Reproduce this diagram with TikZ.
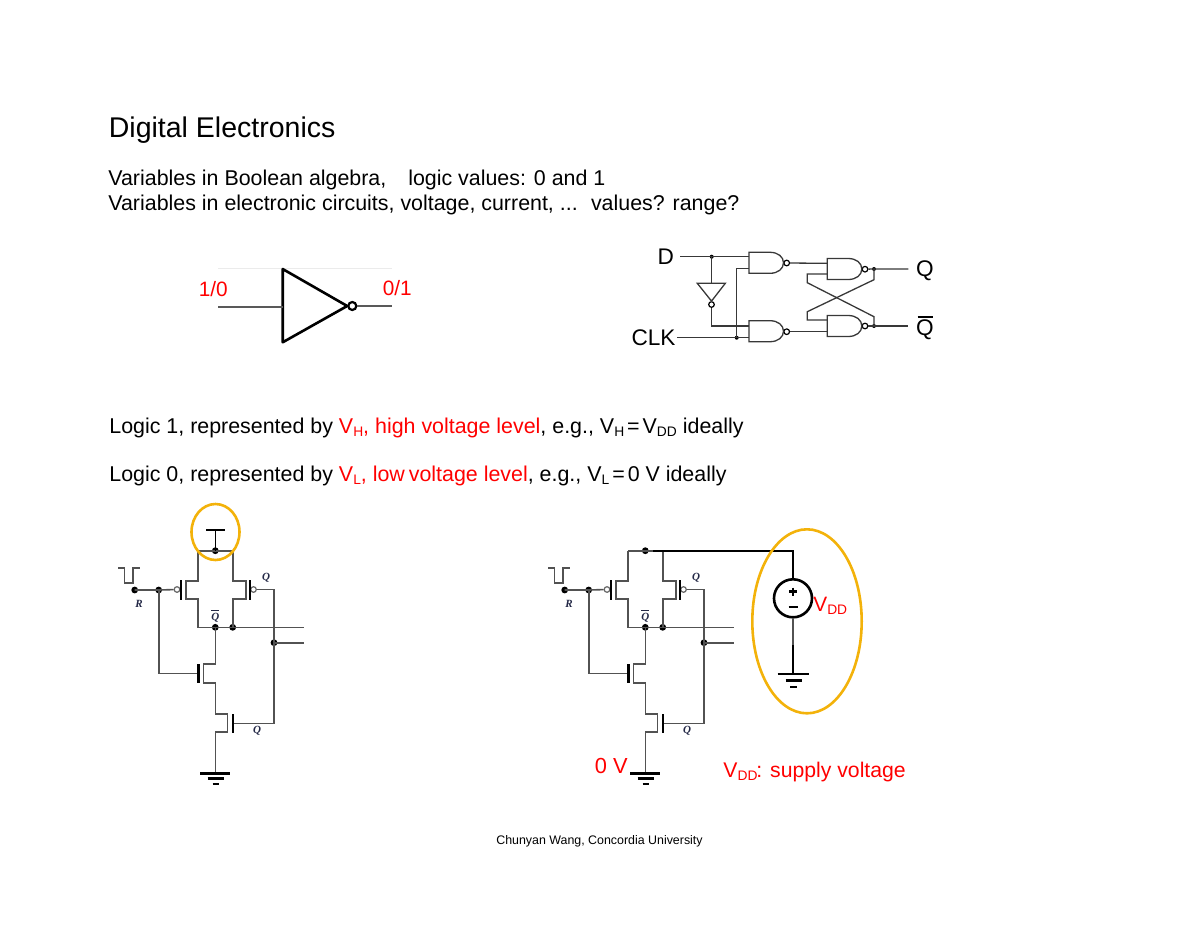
\documentclass[tikz,border=0pt]{standalone}
\usepackage{fontspec}
\setmainfont{Liberation Sans}
\newfontfamily\pinfont[Ligatures=TeX]{Liberation Serif}
\definecolor{ringorange}{RGB}{243,178,10}
\definecolor{pinblue}{RGB}{35,40,70}
\def\lowtext#1{\raisebox{-0.3ex}{\fontsize{6.9}{9}\selectfont #1}}
\def\barred#1{$\overline{\mbox{#1}}$}
\def\nandpiece{-- ++(0,21) -- ++(21,0) .. controls +(8,0) and +(0,6) .. ++(13.5,-10.5) .. controls +(0,-6) and +(8,0) .. ++(-13.5,-10.5) -- cycle}
\def\groundpiece#1{-- ++(#1,0) ++(-#1*2,0) -- ++(#1,0)}
\tikzset{
  body/.style={inner sep=0,anchor=base west,font=\fontsize{10.7}{12}\selectfont},
  redtext/.style={inner sep=0,text=red,font=\fontsize{10.4}{12}\selectfont},
  pin/.style={inner sep=0,text=pinblue,font=\pinfont\bfseries\itshape\fontsize{5.5}{6}\selectfont},
  ffpin/.style={inner sep=0,font=\fontsize{11.3}{13}\selectfont},
  wire/.style={draw=black!68,line width=0.8pt},
  ffwire/.style={draw=black!78,line width=0.65pt},
  jdot/.style={circle,fill=black,inner sep=0,minimum size=3.4pt},
  smalldot/.style={circle,fill=black,inner sep=0,minimum size=2pt},
  bubble/.style={circle,draw=black!60,fill=white,line width=0.6pt,inner sep=0,minimum size=2.8pt},
  gatebar/.style={draw=black,line width=1.4pt},
  ring/.style={draw=ringorange,line width=1.3pt}
}
% the part shared by both latch circuits
\def\latchcore{
  \node[jdot] (rin) at (134.7,590) {};
  \node[jdot] (rtap) at (158.7,590) {};
  \node[bubble] (pga) at (177,589.5) {};
  \node[bubble] (pgb) at (253.5,589.5) {};
  \node[jdot] (qb) at (215.3,627.3) {};
  \node[jdot] (qc) at (232.7,627.3) {};
  \node[jdot] (qt) at (274,642.7) {};
  \coordinate (qout) at (304,627.3);
  \coordinate (qtout) at (304,642.7);
  \coordinate (gnd) at (215.3,773.3);
  \draw[wire] (rin.center) -- (rtap.center) -- (pga);
  \draw[wire] (rtap.center) |- (198.3,673.3);
  \draw[wire] (198,550.7) -- (198,580.7) -- (185.7,580.7) -- (185.7,599) -- (198,599) -- (198,627.3) -- (qout);
  \draw[wire] (232.7,550.7) -- (232.7,580.7) -- (245.7,580.7) -- (245.7,599) -- (232.7,599) -- (qc.center);
  \draw[wire] (pgb) -- (274,589.5) -- (qt.center) -- (274,723.3) -- (233,723.3);
  \draw[wire] (qt.center) -- (qtout);
  \draw[wire] (qb.center) -- (215.3,664) -- (203.3,664) -- (203.3,682.7) -- (215.3,682.7) -- (215.3,714) -- (227.3,714) -- (227.3,732) -- (215.3,732) -- (gnd);
  \draw[gatebar] (181,580) -- (181,600);
  \draw[gatebar] (250,580) -- (250,600);
  \draw[gatebar] (198.3,664) -- (198.3,683);
  \draw[gatebar] (233,714) -- (233,733);
  \draw[gatebar] (gnd) \groundpiece{15};
  \draw[gatebar] (215.7,778.3) \groundpiece{8};
  \draw[gatebar] (215.7,784) \groundpiece{3};
  \draw[wire] (118.3,568) -- (124.3,568) -- (124.3,583) -- (133,583) -- (133,568) -- (140,568);
  \node[pin] (rlabel) at (139,604) {R};
  \node[pin] (qbarlabel) at (215.3,615.5) {\barred{Q}};
  \node[pin] (qtop) at (266,578) {Q};
  \node[pin] (qlow) at (257,731) {Q};
}
\begin{document}
\begin{tikzpicture}[x=0.5pt,y=-0.5pt]
\useasboundingbox (0,0) rectangle (1200,927);
% headings
\node[body,font=\fontsize{14.25}{17}\selectfont] (title) at (108.5,137) {Digital Electronics};
\node[body] (boolline) at (108,185) {Variables in Boolean algebra,\hspace{0.75em} logic values: 0 and 1};
\node[body] (circline) at (108,210) {Variables in electronic circuits, voltage, current, ...\hspace{0.25em} values? range?};
\node[body] (logicone) at (109,433) {Logic 1, represented by \textcolor{red}{V\lowtext{H}, high voltage level}, e.g., V\lowtext{H}\kern1.5pt=\kern1.5pt V\lowtext{DD} ideally};
\node[body] (logiczero) at (109,481) {Logic 0, represented by \textcolor{red}{V\lowtext{L}, low\kern-1pt\ voltage level}, e.g., V\lowtext{L}\kern1.5pt=\kern1.5pt 0 V ideally};
\node[inner sep=0,font=\fontsize{6.2}{8}\selectfont] (credit) at (599.5,841) {Chunyan Wang, Concordia University};
% inverter
\draw[black!8,line width=0.4pt] (218.3,268) -- (391.7,268);
\node[circle,draw=black,line width=1.1pt,inner sep=0,minimum size=4pt] (invbub) at (352.3,306) {};
\coordinate (invin) at (218.3,306.7);
\coordinate (invout) at (391.7,306);
\draw[black,line width=1.3pt,line join=round] (282.7,269) -- (282.7,342.3) -- (invbub.west) -- cycle;
\draw[black!65,line width=1pt] (invin) -- (282.7,306.7);
\draw[black!65,line width=0.8pt] (invbub) -- (invout);
\node[redtext] (invinlabel) at (213.3,289.3) {1/0};
\node[redtext] (invoutlabel) at (397.3,288.3) {0/1};
% flip-flop
\node[ffpin] (dlabel) at (665.7,256.7) {D};
\node[ffpin] (clklabel) at (653.5,337.7) {CLK};
\node[ffpin] (qlabel) at (925,271) {Q};
\node[ffpin] (qbarlabel) at (925,330) {Q};
\draw[line width=0.7pt] (917.5,316.8) -- (932.5,316.8);
\node[smalldot] (dtap) at (711.7,256.7) {};
\node[smalldot] (clktap) at (736.7,337.7) {};
\node[smalldot] (qtap) at (874,269) {};
\node[smalldot] (qbtap) at (874,326) {};
\node[bubble,draw=black] (invff) at (711.5,304.5) {};
\node[bubble,draw=black] (nandab) at (786.7,263) {};
\node[bubble,draw=black] (nandbb) at (865,269.2) {};
\node[bubble,draw=black] (nandcb) at (786.7,331.7) {};
\node[bubble,draw=black] (nanddb) at (865,326) {};
\draw[ffwire] (749,252.3) \nandpiece;
\draw[ffwire] (827.3,258.5) \nandpiece;
\draw[ffwire] (749,320.7) \nandpiece;
\draw[ffwire] (827.3,315.5) \nandpiece;
\draw[ffwire] (697.3,283.3) -- (725.3,283.3) -- (invff.north) -- cycle;
\draw[ffwire] (680,256.7) -- (dtap.center) -- (749,256.7);
\draw[ffwire] (dtap.center) -- (711.7,283.3);
\draw[ffwire] (invff) -- (711.5,326) -- (749,326);
\draw[ffwire] (677.3,337.7) -- (clktap.center) -- (749,337.7);
\draw[ffwire] (clktap.center) -- (736.7,268.3) -- (749,268.3);
\draw[ffwire] (nandab) -- (827.3,263.3);
\draw[ffwire] (nandcb) -- (827.3,331.7);
\draw[ffwire] (nandbb) -- (qtap.center) -- (908.3,269);
\draw[ffwire] (nanddb) -- (qbtap.center) -- (908.3,326);
\draw[ffwire] (827.3,274) -- (807.3,274) -- (807.3,282.7) -- (874,316.7) -- (qbtap.center);
\draw[ffwire] (qtap.center) -- (874,279.7) -- (807.3,311.7) -- (807.3,320) -- (827.3,320);
% left latch
\begin{scope}[name prefix=left-]
\latchcore
\node[jdot] (vtap) at (215.3,550.7) {};
\coordinate (rail) at (198,550.7);
\draw[wire] (rail) -- (232.7,550.7);
\draw[wire,black] (vtap.center) -- (215.3,530);
\draw[gatebar] (206,530) -- (224.7,530);
\draw[ring] (215.5,532) ellipse (24 and 28);
\end{scope}
% right latch with its source
\begin{scope}[xshift=215pt,name prefix=right-]
\latchcore
\node[jdot] (vtap) at (215.3,550.7) {};
\draw[wire] (198,550.7) -- (232.7,550.7);
\end{scope}
\node[circle,draw=black,line width=1.3pt,inner sep=0,minimum size=19pt] (source) at (793,598.3) {};
\coordinate (railend) at (793,550.7);
\coordinate (railstart) at (653,550.7);
\coordinate (srcgnd) at (793,674);
\draw[black,line width=1.1pt] (railstart) -- (railend) -- (source);
\draw[black!68,line width=0.9pt] (source) -- (793,645);
\draw[black,line width=1.1pt] (793,645) -- (srcgnd);
\draw[black,line width=1.1pt] (793,587.5) -- (793,595.5) (789,591.5) -- (797,591.5);
\draw[black,line width=1.1pt] (788.5,607) -- (797.5,607);
\draw[gatebar] (srcgnd) \groundpiece{15.5};
\draw[gatebar] (793.5,680.5) \groundpiece{8};
\draw[gatebar] (793.5,687) \groundpiece{3.5};
\draw[ring] (807,621.3) ellipse (54.7 and 92);
\node[redtext,anchor=base west] (vddlabel) at (813,611.5) {V\lowtext{DD}};
\node[redtext,font=\fontsize{10.9}{13}\selectfont,anchor=base west] (zerolabel) at (594.5,773) {0 V};
\node[redtext,font=\fontsize{10.6}{13}\selectfont,anchor=base west] (supplylabel) at (723,777.5) {V\lowtext{DD}\kern-0.5pt: supply voltage};
\end{tikzpicture}
\end{document}
